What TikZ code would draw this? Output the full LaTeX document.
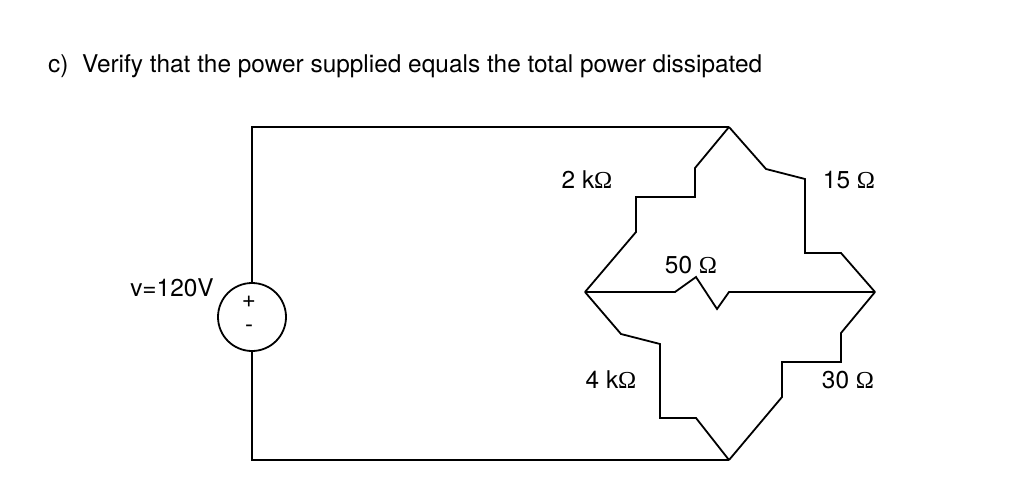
\documentclass[tikz,border=0pt]{standalone}
\usepackage{fontspec}
\setmainfont{TeX Gyre Heros}
\newfontfamily\ohmfont{Liberation Serif}
\newcommand{\ohm}{{\ohmfont Ω}}
\usetikzlibrary{positioning}
\tikzset {
  wire/.style = {
    draw = black,
    line width = 1.8pt,
    line join = miter
  },
  % voltage source
  source/.style = {
    draw = black,
    circle,
    line width = 1.8pt,
    minimum size = 68pt,
    inner sep = 0
  },
  % text next to a part
  value/.style = {
    font = \fontsize{24.4}{28}\selectfont,
    inner sep = 0
  },
  sign/.style = {
    font = \fontsize{24}{28}\selectfont,
    inner sep = 0
  }
}

\begin{document}
\begin{tikzpicture}[x=1pt, y=-1pt]
    \useasboundingbox (0,0) rectangle (1024,479);

    \node[value, anchor=west] (title) at (48,66) {c)\ \ Verify that the power supplied equals the total power dissipated};

    \coordinate (top) at (729,127);
    \coordinate (bottom) at (729,460);
    \coordinate (left) at (585,292);
    \coordinate (right) at (875,292);

    \node[source] (src) at (252,317) {};
    \node[sign] (plus) at (249,302) {+};
    \node[sign] (minus) at (249,329) {-};

    \node[value] (vlabel) at (172,288) {v=120V};
    \node[value] (r1) at (587,180) {2 k\ohm};
    \node[value] (r2) at (849,180) {15 \ohm};
    \node[value] (r3) at (691,265) {50 \ohm};
    \node[value] (r4) at (611,380) {4 k\ohm};
    \node[value] (r5) at (848,380) {30 \ohm};

    \draw[wire] (src.north) |- (top);
    \draw[wire] (src.south) |- (bottom);

    % 2 k
    \draw[wire] (top)
      -- ++(-34,41)
      -- ++(0,29)
      -- ++(-59,0)
      -- ++(0,35)
      -- (left);

    % 15
    \draw[wire] (top)
      -- ++(37,42)
      -- ++(39,10)
      -- ++(0,74)
      -- ++(36,0)
      -- (right);

    % 50
    \draw[wire] (left)
      -- ++(90,0)
      -- ++(21,-15)
      -- ++(21,32)
      -- ++(12,-17)
      -- (right);

    % 4 k
    \draw[wire] (left)
      -- ++(36,42)
      -- ++(39,10)
      -- ++(0,74)
      -- ++(36,0)
      -- (bottom);

    % 30
    \draw[wire] (right)
      -- ++(-34,41)
      -- ++(0,29)
      -- ++(-59,0)
      -- ++(0,35)
      -- (bottom);
\end{tikzpicture}
\end{document}
